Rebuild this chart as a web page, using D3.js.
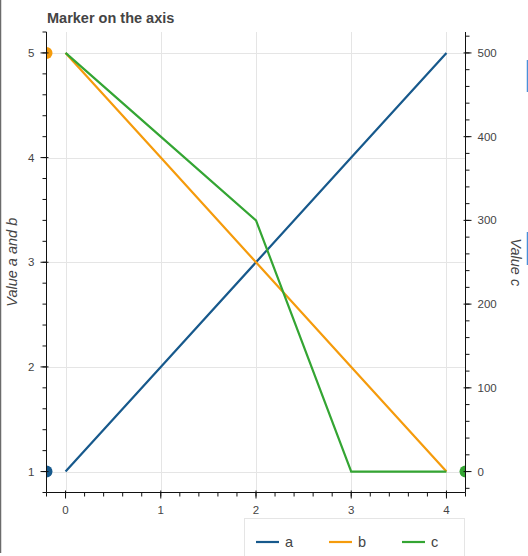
<!DOCTYPE html>
<html>
<head>
<meta charset="utf-8">
<script src="https://cdn.jsdelivr.net/npm/d3@7"></script>
<style>
  html, body { margin: 0; padding: 0; background: #fff; }
  svg { display: block; }
  text { font-family: "Liberation Sans", Arial, Helvetica, sans-serif; }
</style>
</head>
<body>
<svg id="chart" width="528" height="556"></svg>
<script>
// ---- data ----
const xValues = [0, 1, 2, 3, 4];
const seriesA = [1, 2, 3, 4, 5];
const seriesB = [5, 4, 3, 2, 1];
const seriesC = [500, 400, 300, 0, 0];
const seriesNames = ["a", "b", "c"];
const seriesColors = ["#17598c", "#f59b0c", "#34a533"];
const xTicks = [0, 1, 2, 3, 4];
const yLeftTicks = [1, 2, 3, 4, 5];
const yRightTicks = [0, 100, 200, 300, 400, 500];
const titleText = "Marker on the axis";
const yLeftLabel = "Value a and b";
const yRightLabel = "Value c";

// ---- layout ----
const svg = d3.select("#chart");
const frame = { left: 46.5, right: 465.5, top: 32, bottom: 492.5 };

// DataRange1d-like 10% padding
function padded(vals, frac) {
  const [lo, hi] = d3.extent(vals);
  const p = (hi - lo) * frac / 2;
  return [lo - p, hi + p];
}
const x = d3.scaleLinear().domain(padded(xValues, 0.1)).range([frame.left, frame.right]);
const yL = d3.scaleLinear().domain(padded(seriesA.concat(seriesB), 0.1)).range([frame.bottom, frame.top]);
const yR = d3.scaleLinear().domain(padded(seriesC, 0.1)).range([frame.bottom, frame.top]);

// page decorations (border line at left, toolbar fragments at right)
svg.append("line").attr("x1", 0.5).attr("x2", 0.5).attr("y1", 0).attr("y2", 553)
  .attr("stroke", "#6b6b6b").attr("stroke-width", 1.5);
svg.append("line").attr("x1", 527.5).attr("x2", 527.5).attr("y1", 60).attr("y2", 92)
  .attr("stroke", "#4a90d9").attr("stroke-width", 1.5);
svg.append("line").attr("x1", 527.5).attr("x2", 527.5).attr("y1", 232).attr("y2", 265)
  .attr("stroke", "#4a90d9").attr("stroke-width", 1.5);

// clip
svg.append("defs").append("clipPath").attr("id", "frameClip")
  .append("rect").attr("x", frame.left).attr("y", frame.top)
  .attr("width", frame.right - frame.left).attr("height", frame.bottom - frame.top);

// grid
const grid = svg.append("g").attr("stroke", "#e5e5e5").attr("stroke-width", 1);
grid.selectAll(".gx").data(xTicks).join("line")
  .attr("x1", d => Math.round(x(d)) + 0.5).attr("x2", d => Math.round(x(d)) + 0.5)
  .attr("y1", frame.top).attr("y2", frame.bottom);
grid.selectAll(".gy").data(yLeftTicks).join("line")
  .attr("y1", d => Math.round(yL(d)) + 0.5).attr("y2", d => Math.round(yL(d)) + 0.5)
  .attr("x1", frame.left).attr("x2", frame.right);

// lines
const plot = svg.append("g").attr("clip-path", "url(#frameClip)");
const lineL = d3.line().x((d, i) => x(xValues[i])).y(d => yL(d));
const lineR = d3.line().x((d, i) => x(xValues[i])).y(d => yR(d));
plot.append("path").datum(seriesA).attr("d", lineL).attr("fill", "none")
  .attr("stroke", seriesColors[0]).attr("stroke-width", 2.2);
plot.append("path").datum(seriesB).attr("d", lineL).attr("fill", "none")
  .attr("stroke", seriesColors[1]).attr("stroke-width", 2.2);
plot.append("path").datum(seriesC).attr("d", lineR).attr("fill", "none")
  .attr("stroke", seriesColors[2]).attr("stroke-width", 2.2);

// markers on the axes
const xd = x.domain();
const markers = [
  { x: xd[0], y: yL(seriesA[0]), color: seriesColors[0] },
  { x: xd[0], y: yL(seriesB[0]), color: seriesColors[1] },
  { x: xd[1], y: yR(seriesC[seriesC.length - 1]), color: seriesColors[2] }
];
plot.selectAll(".mk").data(markers).join("circle")
  .attr("cx", d => x(d.x)).attr("cy", d => d.y).attr("r", 6)
  .attr("fill", d => d.color);

// axes
function minorTicks(scale, step) {
  const [lo, hi] = scale.domain();
  const out = [];
  for (let v = Math.ceil(lo / step - 1e-9) * step; v <= hi + 1e-9; v += step) out.push(+v.toFixed(6));
  return out;
}
const axisColor = "#111";
const labelColor = "#444";

// bottom axis
const gB = svg.append("g");
gB.append("line").attr("x1", frame.left).attr("x2", frame.right)
  .attr("y1", frame.bottom).attr("y2", frame.bottom).attr("stroke", axisColor);
gB.selectAll(".mn").data(minorTicks(x, 0.2)).join("line")
  .attr("x1", d => x(d)).attr("x2", d => x(d))
  .attr("y1", frame.bottom).attr("y2", frame.bottom + 4).attr("stroke", axisColor);
gB.selectAll(".mj").data(xTicks).join("line")
  .attr("x1", d => x(d)).attr("x2", d => x(d))
  .attr("y1", frame.bottom - 2).attr("y2", frame.bottom + 6).attr("stroke", axisColor);
gB.selectAll(".lb").data(xTicks).join("text")
  .attr("x", d => x(d)).attr("y", frame.bottom + 21)
  .attr("text-anchor", "middle").attr("font-size", "11.5px").attr("fill", labelColor)
  .text(d3.format("d"));

// left axis
const gL = svg.append("g");
gL.append("line").attr("x1", frame.left).attr("x2", frame.left)
  .attr("y1", frame.top).attr("y2", frame.bottom).attr("stroke", axisColor);
gL.selectAll(".mn").data(minorTicks(yL, 0.2)).join("line")
  .attr("y1", d => yL(d)).attr("y2", d => yL(d))
  .attr("x1", frame.left).attr("x2", frame.left - 4).attr("stroke", axisColor);
gL.selectAll(".mj").data(yLeftTicks).join("line")
  .attr("y1", d => yL(d)).attr("y2", d => yL(d))
  .attr("x1", frame.left + 2).attr("x2", frame.left - 6).attr("stroke", axisColor);
gL.selectAll(".lb").data(yLeftTicks).join("text")
  .attr("x", frame.left - 12).attr("y", d => yL(d) + 4)
  .attr("text-anchor", "end").attr("font-size", "11.5px").attr("fill", labelColor)
  .text(d3.format("d"));
svg.append("text")
  .attr("transform", `translate(17,${(frame.top + frame.bottom) / 2}) rotate(-90)`)
  .attr("text-anchor", "middle").attr("font-size", "14.5px").attr("font-style", "italic")
  .attr("fill", labelColor).text(yLeftLabel);

// right axis
const gR = svg.append("g");
gR.append("line").attr("x1", frame.right).attr("x2", frame.right)
  .attr("y1", frame.top).attr("y2", frame.bottom).attr("stroke", axisColor);
gR.selectAll(".mn").data(minorTicks(yR, 20)).join("line")
  .attr("y1", d => yR(d)).attr("y2", d => yR(d))
  .attr("x1", frame.right).attr("x2", frame.right + 4).attr("stroke", axisColor);
gR.selectAll(".mj").data(yRightTicks).join("line")
  .attr("y1", d => yR(d)).attr("y2", d => yR(d))
  .attr("x1", frame.right - 2).attr("x2", frame.right + 6).attr("stroke", axisColor);
gR.selectAll(".lb").data(yRightTicks).join("text")
  .attr("x", frame.right + 12).attr("y", d => yR(d) + 4)
  .attr("text-anchor", "start").attr("font-size", "11.5px").attr("fill", labelColor)
  .text(d3.format("d"));
svg.append("text")
  .attr("transform", `translate(511,${(frame.top + frame.bottom) / 2}) rotate(90)`)
  .attr("text-anchor", "middle").attr("font-size", "14.5px").attr("font-style", "italic")
  .attr("fill", labelColor).text(yRightLabel);

// title
svg.append("text").attr("x", 47).attr("y", 23)
  .attr("font-size", "14.5px").attr("font-weight", "bold").attr("fill", labelColor)
  .text(titleText);

// legend
const leg = svg.append("g");
leg.append("rect").attr("x", 244.5).attr("y", 518.5).attr("width", 220).attr("height", 60)
  .attr("fill", "#fff").attr("stroke", "#e5e5e5");
const items = leg.selectAll(".it").data(seriesNames).join("g")
  .attr("transform", (d, i) => `translate(${256 + i * 73},542)`);
items.append("line").attr("x1", 0).attr("x2", 23).attr("y1", 0).attr("y2", 0)
  .attr("stroke", (d, i) => seriesColors[i]).attr("stroke-width", 2.2);
items.append("text").attr("x", 29).attr("y", 5)
  .attr("font-size", "14.5px").attr("fill", labelColor).text(d => d);
</script>
</body>
</html>
